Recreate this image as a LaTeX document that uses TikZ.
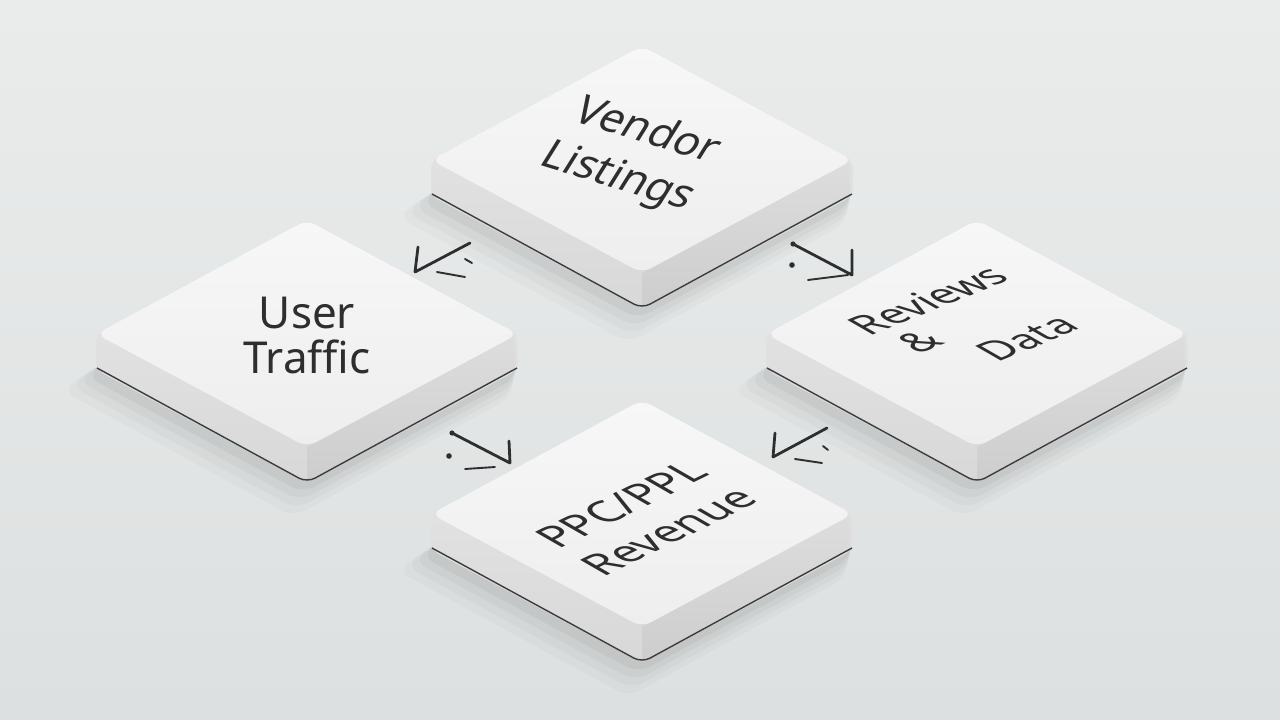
\documentclass[tikz,border=0pt]{standalone}
\usepackage{fontspec}
\setmainfont{Noto Sans}
\definecolor{bgtop}{HTML}{EAECEC}
\definecolor{bgbot}{HTML}{DDE0E0}
\definecolor{topA}{HTML}{F7F7F7}
\definecolor{topB}{HTML}{EEEEEE}
\definecolor{sideLA}{HTML}{E8E8E8}
\definecolor{sideLB}{HTML}{D8D8D8}
\definecolor{sideRA}{HTML}{DDDDDD}
\definecolor{sideRB}{HTML}{CDCDCD}
\definecolor{edgedark}{HTML}{3C3C3C}
\definecolor{ink}{HTML}{2E2E2E}
\newcommand\isotile[3]{%
  \begin{scope}[shift={(#2,#3)}]
    \coordinate (#1) at (0,0);
    \foreach \d/\o in {34/0.02,26/0.025,18/0.03,10/0.04}{
      \fill[black,opacity=\o,rounded corners=14]
        (-211-\d,36+0.6*\d) -- (0-0.4*\d,149+\d) -- (211-0.2*\d,36+0.8*\d) -- (211,0) -- (0,-114) -- cycle;
    }
    \shade[top color=sideLA,bottom color=sideLB,rounded corners=9]
      (-211,0) -- (0,-114) -- (211,0) -- (211,36) -- (0,149) -- (-211,36) -- cycle;
    \shade[top color=sideRA,bottom color=sideRB]
      (0,113) -- (208,2) -- (208,36) -- (0,148) -- cycle;
    \draw[edgedark,line width=1.4,rounded corners=9] (-210,34) -- (0,148.5) -- (210,34);
    \shade[top color=topA,bottom color=topB,rounded corners=10]
      (-211,0) -- (0,-114) -- (211,0) -- (0,113) -- cycle;
  \end{scope}}
\begin{document}
\begin{tikzpicture}[x=1pt,y=-1pt,
  lbl/.style={text=ink,align=center,font=\fontsize{43}{54}\selectfont,inner sep=0pt},
  lblrv/.style={text=ink,font=\fontsize{41}{50}\selectfont,inner sep=0pt,
    cm={0.927,0.375,-0.87,0.50,(0,0)}},
  lblup/.style={text=ink,align=center,font=\fontsize{44}{45}\selectfont,inner sep=0pt},
  arr/.style={draw=ink,line width=2.8,line cap=round,line join=round},
  tick/.style={draw=ink,line width=1.9,line cap=round},
  blob/.style={fill=ink}]
\useasboundingbox (0,0) rectangle (1280,720);
\shade[top color=bgtop,bottom color=bgbot] (0,0) rectangle (1280,720);

\isotile{tV}{642}{160}
\isotile{tU}{307}{334}
\isotile{tR}{977}{334}
\isotile{tP}{642}{514}

\node[lbl,cm={0.956,-0.292,0.530,0.848,(0,0)}] (vendor) at (632,155) {Vendor\\Listings};
\node[lblup] (user) at (307,336) {User\\Traffic};
\node[lblrv] (reviews) at (928,300) {Reviews};
\node[lblrv] (amp) at (920,342) {\&};
\node[lblrv] (data) at (1027,338) {Data};
\node[lbl,cm={0.90,0.44,-0.87,0.50,(0,0)}] (ppc) at (645,518) {PPC/PPL\\Revenue};

% arrow 1: vendor -> user
\coordinate (a1s) at (470,243); \coordinate (a1t) at (415,272); \coordinate (a1b) at (418,247);
\draw[arr] (a1s) -- (a1t) -- (a1b);
\draw[tick] (465,259) -- (472,263);
\draw[tick] (437,272) -- (465,277);
% arrow 2: vendor -> reviews
\coordinate (a2s) at (793,244); \coordinate (a2t) at (852,275); \coordinate (a2b) at (852,250);
\fill[blob] (a2s) circle (2.6);
\draw[arr] (a2s) -- (a2t) -- (a2b);
\fill[blob] (792,265) circle (2.8);
\draw[tick] (808,280) -- (848,275);
% arrow 3: user -> ppc
\coordinate (a3s) at (452,433); \coordinate (a3t) at (510,463); \coordinate (a3b) at (509,441);
\fill[blob] (a3s) circle (2.6);
\draw[arr] (a3s) -- (a3t) -- (a3b);
\fill[blob] (449,456) circle (2.8);
\draw[tick] (465,469) -- (495,467);
% arrow 4: reviews -> ppc
\coordinate (a4s) at (827,428); \coordinate (a4t) at (773,457); \coordinate (a4b) at (775,433);
\draw[arr] (a4s) -- (a4t) -- (a4b);
\draw[tick] (823,446) -- (828,450);
\draw[tick] (795,459) -- (822,463);
\end{tikzpicture}
\end{document}
